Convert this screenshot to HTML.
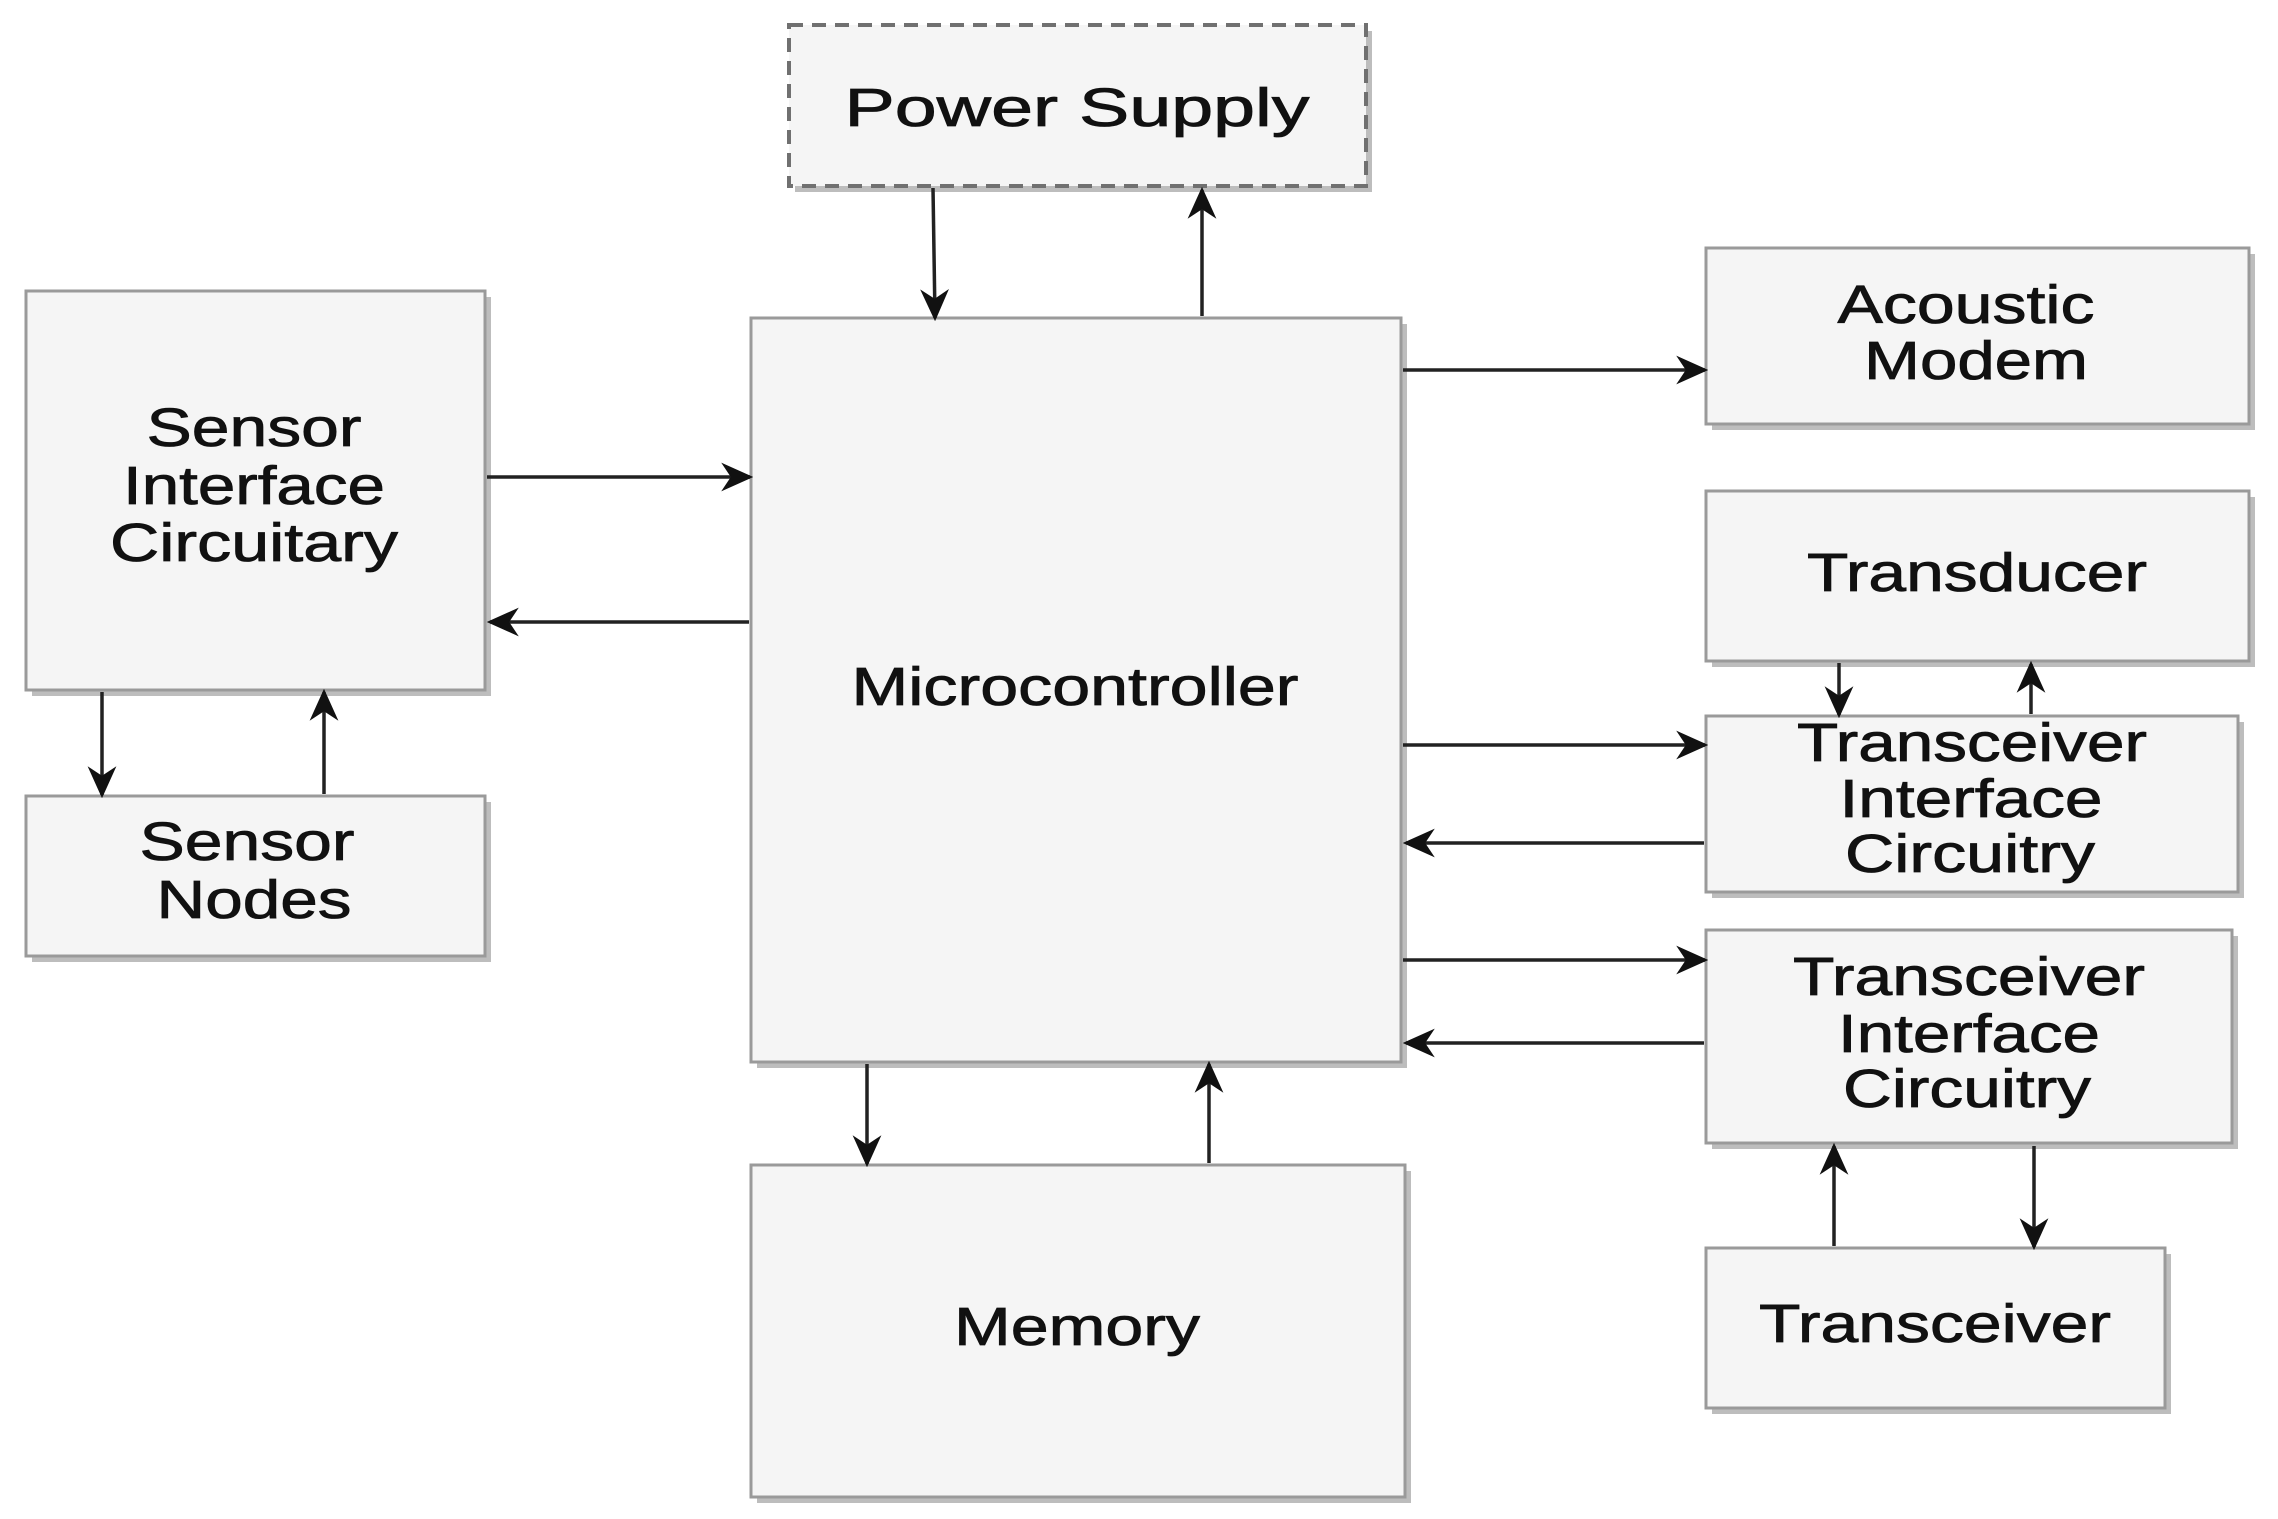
<!DOCTYPE html>
<html><head><meta charset="utf-8"><style>html,body{margin:0;padding:0;background:#fff}svg{display:block}</style></head>
<body>
<svg width="2278" height="1519" viewBox="0 0 2278 1519" xmlns="http://www.w3.org/2000/svg">
<defs>
<marker id="b" viewBox="0 0 20 20" refX="18" refY="10" markerWidth="32" markerHeight="32" markerUnits="userSpaceOnUse" orient="auto"><path d="M0,1 L20,10 L0,19 L6,10 Z" fill="#111"/></marker>
</defs>
<g fill="#bdbdbd">
<rect x="795" y="31" width="577" height="161"/>
<rect x="757" y="324" width="650" height="744"/>
<rect x="32" y="297" width="459" height="399"/>
<rect x="32" y="802" width="459" height="160"/>
<rect x="757" y="1171" width="654" height="332"/>
<rect x="1712" y="254" width="543" height="176"/>
<rect x="1712" y="497" width="543" height="170"/>
<rect x="1712" y="722" width="532" height="176"/>
<rect x="1712" y="936" width="526" height="213"/>
<rect x="1712" y="1254" width="459" height="160"/>
</g>
<g fill="#f5f5f5" stroke="#9a9a9a" stroke-width="3">
<rect x="789" y="25" width="577" height="161" stroke="#707070" stroke-dasharray="14,9" stroke-width="4"/>
<rect x="751" y="318" width="650" height="744"/>
<rect x="26" y="291" width="459" height="399"/>
<rect x="26" y="796" width="459" height="160"/>
<rect x="751" y="1165" width="654" height="332"/>
<rect x="1706" y="248" width="543" height="176"/>
<rect x="1706" y="491" width="543" height="170"/>
<rect x="1706" y="716" width="532" height="176"/>
<rect x="1706" y="930" width="526" height="213"/>
<rect x="1706" y="1248" width="459" height="160"/>
</g>
<g stroke="#222" stroke-width="3.5" fill="none" marker-end="url(#b)">
<line x1="933" y1="188" x2="935" y2="318"/>
<line x1="1202" y1="316" x2="1202" y2="190"/>
<line x1="487" y1="477" x2="750" y2="477"/>
<line x1="749" y1="622" x2="490" y2="622"/>
<line x1="102" y1="692" x2="102" y2="795"/>
<line x1="324" y1="794" x2="324" y2="692"/>
<line x1="1403" y1="370" x2="1705" y2="370"/>
<line x1="1839" y1="663" x2="1839" y2="715"/>
<line x1="2031" y1="714" x2="2031" y2="664"/>
<line x1="1403" y1="745" x2="1705" y2="745"/>
<line x1="1704" y1="843" x2="1406" y2="843"/>
<line x1="1403" y1="960" x2="1705" y2="960"/>
<line x1="1704" y1="1043" x2="1406" y2="1043"/>
<line x1="1834" y1="1246" x2="1834" y2="1146"/>
<line x1="2034" y1="1146" x2="2034" y2="1247"/>
<line x1="867" y1="1064" x2="867" y2="1164"/>
<line x1="1209" y1="1163" x2="1209" y2="1064"/>
</g>
<g font-family="Liberation Sans, Arial, sans-serif" font-size="54" fill="#111" stroke="#111" stroke-width="0.8" text-anchor="middle">
<text x="1077" y="126" textLength="465" lengthAdjust="spacingAndGlyphs">Power Supply</text>
<text x="254" y="446" textLength="215" lengthAdjust="spacingAndGlyphs">Sensor</text>
<text x="254" y="504" textLength="262" lengthAdjust="spacingAndGlyphs">Interface</text>
<text x="254" y="561" textLength="288" lengthAdjust="spacingAndGlyphs">Circuitary</text>
<text x="1075" y="705" textLength="447" lengthAdjust="spacingAndGlyphs">Microcontroller</text>
<text x="247" y="860" textLength="215" lengthAdjust="spacingAndGlyphs">Sensor</text>
<text x="254" y="918" textLength="195" lengthAdjust="spacingAndGlyphs">Nodes</text>
<text x="1077" y="1345" textLength="246" lengthAdjust="spacingAndGlyphs">Memory</text>
<text x="1966" y="323" textLength="257" lengthAdjust="spacingAndGlyphs">Acoustic</text>
<text x="1976" y="379" textLength="224" lengthAdjust="spacingAndGlyphs">Modem</text>
<text x="1977" y="591" textLength="340" lengthAdjust="spacingAndGlyphs">Transducer</text>
<text x="1972" y="761" textLength="350" lengthAdjust="spacingAndGlyphs">Transceiver</text>
<text x="1971" y="817" textLength="263" lengthAdjust="spacingAndGlyphs">Interface</text>
<text x="1970" y="872" textLength="250" lengthAdjust="spacingAndGlyphs">Circuitry</text>
<text x="1969" y="995" textLength="352" lengthAdjust="spacingAndGlyphs">Transceiver</text>
<text x="1969" y="1052" textLength="262" lengthAdjust="spacingAndGlyphs">Interface</text>
<text x="1967" y="1107" textLength="248" lengthAdjust="spacingAndGlyphs">Circuitry</text>
<text x="1935" y="1342" textLength="352" lengthAdjust="spacingAndGlyphs">Transceiver</text>
</g>
</svg>
</body></html>
